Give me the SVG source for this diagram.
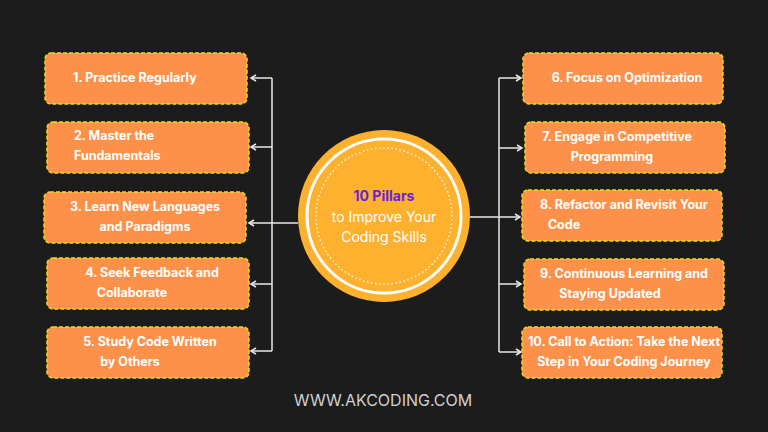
<svg xmlns="http://www.w3.org/2000/svg" width="768" height="432" viewBox="0 0 768 432">
<style>
.box{fill:#fd914a;stroke:#e6dc1a;stroke-width:1.5;stroke-dasharray:4 2}
.t{font-family:Inter,"Liberation Sans",sans-serif;font-weight:700;font-size:12.5px;fill:#fff}
.c{fill:none;stroke:#e8e8e8;stroke-width:1.5}
</style>
<defs><marker id="a" markerWidth="8" markerHeight="8" refX="6" refY="4" orient="auto" markerUnits="userSpaceOnUse"><path d="M1,1 L6,4 L1,7" fill="none" stroke="#e8e8e8" stroke-width="1.5"/></marker></defs>
<rect width="768" height="432" fill="#1c1c1c"/>
<g id="connectors">
<path class="c" d="M272,78 V351"/>
<path class="c" d="M272,78 H251" marker-end="url(#a)"/>
<path class="c" d="M272,147 H251" marker-end="url(#a)"/>
<path class="c" d="M298,223 H249" marker-end="url(#a)"/>
<path class="c" d="M272,284 H251" marker-end="url(#a)"/>
<path class="c" d="M272,351 H251" marker-end="url(#a)"/>
<path class="c" d="M499,78 V352"/>
<path class="c" d="M499,78 H521" marker-end="url(#a)"/>
<path class="c" d="M499,148 H522" marker-end="url(#a)"/>
<path class="c" d="M470,217 H520" marker-end="url(#a)"/>
<path class="c" d="M499,284 H521" marker-end="url(#a)"/>
<path class="c" d="M499,352 H521" marker-end="url(#a)"/>
</g>
<g id="center">
<circle cx="384" cy="216" r="86" fill="#fdb12f"/>
<circle cx="384" cy="216" r="77" fill="none" stroke="#fff" stroke-width="3"/>
<circle cx="384" cy="216" r="68" fill="none" stroke="#fff" stroke-width="1.5" stroke-dasharray="0.1 4" stroke-linecap="round"/>
<text x="384" y="201" text-anchor="middle" font-family="Inter,'Liberation Sans',sans-serif" font-weight="700" font-size="14" fill="#6b1fd6">10 Pillars</text>
<text x="384" y="222" text-anchor="middle" font-family="Inter,'Liberation Sans',sans-serif" font-size="14" fill="#fff">to Improve Your</text>
<text x="384" y="242" text-anchor="middle" font-family="Inter,'Liberation Sans',sans-serif" font-size="14" fill="#fff">Coding Skills</text>
</g>
<g id="n1"><rect class="box" x="45" y="53" width="202" height="51" rx="6"/><text class="t" x="73" y="82">1. Practice Regularly</text></g>
<g id="n2"><rect class="box" x="47" y="122" width="202" height="51" rx="6"/><text class="t" x="74" y="140">2. Master the</text><text class="t" x="74" y="160">Fundamentals</text></g>
<g id="n3"><rect class="box" x="44" y="192" width="202" height="51" rx="6"/><text class="t" x="145" y="211" text-anchor="middle">3. Learn New Languages</text><text class="t" x="145" y="231" text-anchor="middle">and Paradigms</text></g>
<g id="n4"><rect class="box" x="47" y="258" width="202" height="51" rx="6"/><text class="t" x="152" y="277" text-anchor="middle">4. Seek Feedback and</text><text class="t" x="132" y="297" text-anchor="middle">Collaborate</text></g>
<g id="n5"><rect class="box" x="47" y="327" width="202" height="51" rx="6"/><text class="t" x="150" y="346" text-anchor="middle">5. Study Code Written</text><text class="t" x="130" y="366" text-anchor="middle">by Others</text></g>
<g id="n6"><rect class="box" x="523" y="53" width="200" height="51" rx="6"/><text class="t" x="627" y="82" text-anchor="middle">6. Focus on Optimization</text></g>
<g id="n7"><rect class="box" x="525" y="122" width="200" height="51" rx="6"/><text class="t" x="617" y="141" text-anchor="middle">7. Engage in Competitive</text><text class="t" x="612" y="161" text-anchor="middle">Programming</text></g>
<g id="n8"><rect class="box" x="522" y="190" width="200" height="51" rx="6"/><text class="t" x="624" y="209" text-anchor="middle">8. Refactor and Revisit Your</text><text class="t" x="564" y="229" text-anchor="middle">Code</text></g>
<g id="n9"><rect class="box" x="524" y="259" width="200" height="51" rx="6"/><text class="t" x="624" y="278" text-anchor="middle">9. Continuous Learning and</text><text class="t" x="610" y="298" text-anchor="middle">Staying Updated</text></g>
<g id="n10"><rect class="box" x="522" y="327" width="200" height="51" rx="6"/><text class="t" x="624" y="346" text-anchor="middle" font-size="11.5">10. Call to Action: Take the Next</text><text class="t" x="624" y="366" text-anchor="middle" font-size="11.5">Step in Your Coding Journey</text></g>
<text x="383" y="406" text-anchor="middle" font-family="Inter,'Liberation Sans',sans-serif" font-size="16" fill="#d0d0d0">WWW.AKCODING.COM</text>
</svg>
